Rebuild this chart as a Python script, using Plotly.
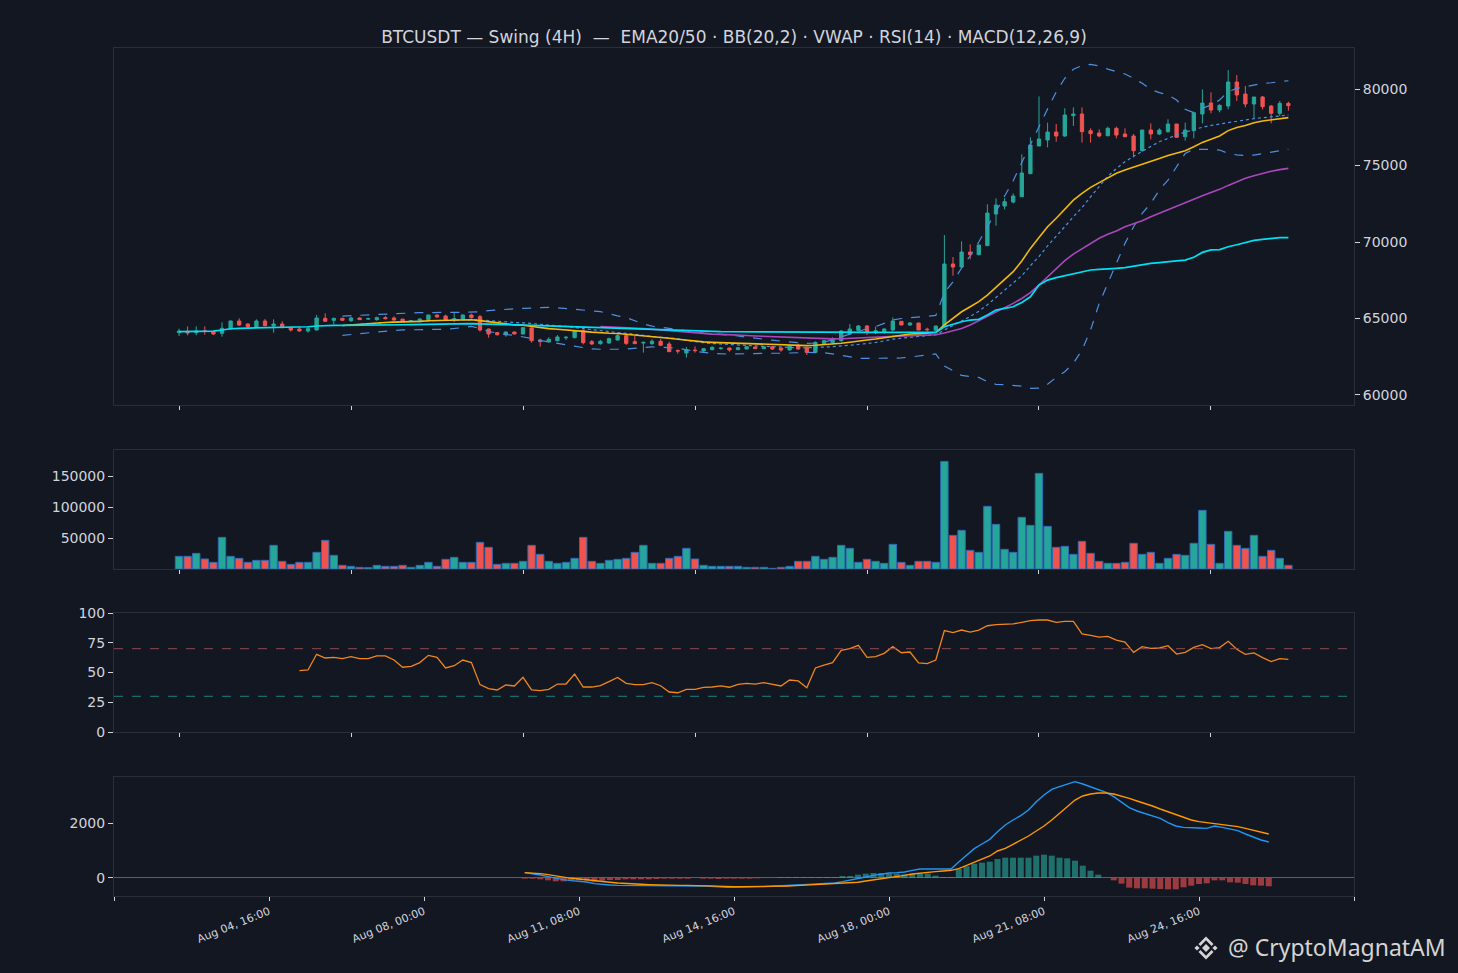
import pandas as pd
import plotly.graph_objects as go

# ---- 4H BTCUSDT candles ----
START = "2025-08-04 16:00"

OPEN = [64074, 64161, 64074, 64205, 64140, 64030, 64314, 64837, 64640, 64444,
        64837, 64510, 64640, 64400, 64314, 64183, 64248, 65010, 64880, 65010,
        64860, 65033, 64960, 64925, 65055, 65033, 64960, 64820, 64793, 64924,
        65228, 65163, 64900, 64945, 65229, 65120, 64314, 64074, 63943, 64118,
        63987, 64379, 63595, 63464, 63550, 63740, 63747, 64205, 63486, 63355,
        63399, 63595, 63878, 63486, 63400, 63355, 63508, 63333, 62900, 62745,
        62940, 62876, 62963, 63040, 63071, 62963, 63006, 63137, 63028, 63158,
        63071, 62941, 63202, 63115, 62789, 63355, 63420, 63551, 63987, 64227,
        64510, 64074, 64074, 64248, 64815, 64575, 64706, 64300, 64227, 64510,
        68562, 68364, 69344, 69170, 69759, 71828, 72351, 72613, 72962, 74465,
        76273, 76666, 77188, 76927, 78256, 78365, 77276, 77123, 76949, 77428,
        77058, 76927, 75968, 77319, 77058, 77210, 77711, 76884, 77276, 78365,
        79084, 78627, 78888, 80457, 79673, 79019, 79477, 78888, 78409, 79063]
HIGH = [64336, 64488, 64488, 64488, 64160, 64750, 64860, 65010, 64684, 64945,
        64967, 64945, 64815, 64466, 64466, 64466, 65230, 65340, 65050, 65050,
        65120, 65080, 65050, 65120, 65160, 65140, 64980, 64880, 65000, 65250,
        65260, 65250, 65380, 65260, 65315, 65230, 64336, 64120, 64140, 64140,
        64420, 64420, 63680, 63770, 63920, 63856, 64180, 64290, 63595, 63600,
        63750, 64030, 63943, 63856, 63486, 63640, 63660, 63480, 62980, 63140,
        63180, 63070, 63180, 63130, 63090, 63110, 63180, 63160, 63180, 63180,
        63090, 63220, 63350, 63140, 63500, 63600, 63770, 64250, 64640, 64575,
        64575, 64466, 64360, 65077, 64815, 64750, 64706, 64400, 64510, 70458,
        69020, 70042, 69846, 69846, 72460, 72853, 72853, 73180, 75729, 76840,
        79520, 77799, 77711, 78736, 78801, 78801, 77430, 77363, 77537, 77537,
        77428, 77058, 77319, 77755, 77428, 78017, 77711, 77799, 78518, 79978,
        79782, 78997, 81241, 80915, 80196, 79477, 79542, 78954, 79215, 79172]
LOW = [63856, 63900, 63900, 63943, 63921, 63812, 64300, 64510, 64380, 64380,
       64490, 64074, 64357, 64140, 64140, 64074, 64220, 64770, 64620, 64840,
       64770, 64900, 64900, 64860, 64945, 64860, 64790, 64760, 64750, 64900,
       65070, 64850, 64770, 64920, 65000, 64140, 63747, 63880, 63812, 63960,
       63950, 63420, 63160, 63420, 63500, 63595, 63700, 63311, 63270, 63290,
       63350, 63550, 63270, 63355, 62770, 63270, 63200, 62832, 62700, 62440,
       62770, 62810, 62920, 62960, 62830, 62940, 62990, 63010, 63010, 62940,
       62830, 62920, 62940, 62615, 62750, 63330, 63310, 63480, 63920, 64140,
       63920, 63990, 64010, 64180, 64575, 64530, 64248, 64140, 64200, 64400,
       67800, 68364, 68865, 69130, 69759, 71066, 72134, 72525, 72962, 74465,
       76273, 76186, 76557, 76884, 77581, 76492, 76492, 76840, 76905, 76775,
       76840, 75533, 75903, 76709, 76992, 77145, 76840, 76622, 76775, 77755,
       78409, 78475, 78670, 79215, 78801, 78082, 78670, 77755, 78235, 78583]
CLOSE = [64183, 64052, 64183, 64161, 63987, 64357, 64837, 64575, 64466, 64837,
         64532, 64640, 64466, 64248, 64183, 64336, 65033, 64815, 65010, 64880,
         65033, 64925, 64990, 65055, 64990, 64900, 64790, 64850, 64967, 65228,
         65097, 64880, 64990, 65229, 65054, 64248, 63987, 63943, 64118, 63987,
         64401, 63550, 63486, 63638, 63791, 63770, 64161, 63420, 63333, 63508,
         63682, 63878, 63377, 63355, 63440, 63508, 63246, 62832, 62875, 62963,
         62900, 63028, 63115, 63060, 62941, 63093, 63158, 63028, 63158, 63006,
         62941, 63202, 63006, 62789, 63442, 63551, 63638, 64183, 64314, 64510,
         64118, 64205, 64314, 64837, 64575, 64706, 64248, 64270, 64510, 68562,
         68366, 69344, 69170, 69802, 71894, 72417, 72635, 73005, 74508, 76339,
         76731, 77188, 76927, 78300, 78365, 77210, 77080, 76927, 77428, 76992,
         76884, 75968, 77319, 77058, 77319, 77711, 76840, 77319, 78452, 79084,
         78627, 78932, 80457, 79607, 79019, 79477, 78845, 78409, 79063, 78910]
VOLUME = [20430, 20430, 25270, 16130, 10750, 51070, 20430, 17200, 10750, 13980,
          13980, 38170, 12370, 7530, 10750, 10750, 26880, 46230, 22040, 5910,
          4300, 2690, 2150, 5910, 4300, 4300, 5910, 2690, 5910, 10750,
          4300, 15590, 18820, 10750, 10750, 43010, 34940, 7530, 9140, 9140,
          12370, 38170, 23650, 12370, 9140, 10750, 17200, 51070, 12370, 9140,
          13980, 15590, 17200, 26880, 38170, 9140, 9140, 17200, 20430, 33330,
          16130, 5910, 4300, 4300, 4300, 4300, 2690, 2690, 2690, 1075,
          2690, 4300, 12370, 12370, 20430, 15590, 18820, 38170, 33330, 10750,
          15590, 12370, 9140, 39780, 10750, 5910, 12370, 12370, 10750, 173640,
          54300, 62360, 30100, 26880, 101070, 72040, 31720, 26880, 83330, 70430,
          154290, 68810, 34940, 36560, 23650, 44620, 25270, 12370, 9140, 9140,
          10750, 41400, 23650, 26880, 9140, 17200, 23650, 22040, 41400, 94620,
          39780, 9140, 60750, 38170, 33330, 54300, 20430, 30100, 17200, 5910]

# ---- overlays (None where not yet defined) ----
EMA20 = [None] * 19 + [
    64540, 64590, 64630, 64670, 64710, 64740, 64760, 64770, 64790, 64810,
    64850, 64870, 64880, 64890, 64910, 64920, 64860, 64780, 64700, 64640,
    64580, 64560, 64480, 64400, 64340, 64300, 64260, 64240, 64160, 64110,
    64060, 64040, 64020, 63970, 63920, 63870, 63840, 63800, 63710, 63640,
    63570, 63510, 63470, 63440, 63420, 63390, 63370, 63350, 63330, 63320,
    63300, 63280, 63270, 63250, 63230, 63250, 63280, 63310, 63380, 63450,
    63540, 63600, 63660, 63740, 63840, 63910, 63990, 64010, 64040, 64080,
    64580, 65010, 65440, 65770, 66100, 66530, 67030, 67510, 68060, 68760,
    69580, 70300, 71000, 71550, 72130, 72740, 73180, 73570, 73880, 74200,
    74490, 74700, 74880, 75080, 75250, 75450, 75660, 75790, 75970, 76230,
    76510, 76710, 76930, 77280, 77490, 77620, 77800, 77910, 77970, 78060,
    78130]
EMA50 = [None] * 49 + [
    64480, 64460, 64430, 64400, 64370, 64340, 64300, 64250, 64190, 64130,
    64080, 64040, 64000, 63980, 63960, 63950, 63920, 63890, 63860, 63840,
    63820, 63800, 63780, 63750, 63710, 63680, 63660, 63665, 63680, 63710,
    63730, 63760, 63790, 63810, 63840, 63860, 63880, 63900, 63920, 63940,
    64050, 64180, 64350, 64570, 64850, 65160, 65440, 65730, 65990, 66310,
    66690, 67190, 67730, 68280, 68780, 69210, 69540, 69910, 70240, 70500,
    70720, 71000, 71200, 71390, 71650, 71870, 72090, 72310, 72530, 72790,
    73030, 73220, 73440, 73700, 73940, 74160, 74330, 74490, 74620, 74730,
    74810]
VWAP = [64140, 64150, 64160, 64170, 64170, 64250, 64330, 64360, 64370, 64390,
        64410, 64440, 64450, 64450, 64450, 64460, 64510, 64540, 64550, 64550,
        64550, 64555, 64560, 64570, 64580, 64590, 64590, 64600, 64610, 64640,
        64650, 64650, 64660, 64660, 64660, 64650, 64620, 64610, 64600, 64590,
        64590, 64560, 64540, 64520, 64500, 64490, 64480, 64440, 64410, 64390,
        64380, 64370, 64350, 64320, 64290, 64280, 64270, 64230, 64200, 64180,
        64160, 64150, 64145, 64140, 64135, 64130, 64130, 64125, 64125, 64120,
        64120, 64115, 64110, 64100, 64100, 64095, 64095, 64095, 64095, 64095,
        64095, 64095, 64095, 64095, 64095, 64095, 64095, 64095, 64095, 64460,
        64640, 64790, 64900, 64945, 65230, 65550, 65660, 65770, 66050, 66420,
        67190, 67510, 67670, 67800, 67880, 68060, 68170, 68210, 68230, 68280,
        68320, 68430, 68490, 68600, 68650, 68690, 68760, 68820, 69000, 69320,
        69480, 69500, 69690, 69820, 69950, 70110, 70170, 70240, 70280, 70290]
BB_UP = [None] * 19 + [
    65160, 65190, 65220, 65240, 65260, 65290, 65320, 65340, 65360, 65380,
    65400, 65400, 65400, 65400, 65400, 65410, 65430, 65520, 65570, 65600,
    65630, 65660, 65680, 65720, 65730, 65700, 65660, 65610, 65550, 65500,
    65450, 65300, 65170, 65060, 64850, 64640, 64500, 64420, 64360, 64280,
    64180, 64110, 64050, 64010, 63970, 63920, 63860, 63780, 63700, 63640,
    63580, 63520, 63480, 63420, 63380, 63400, 63450, 63620, 63810, 64000,
    64180, 64330, 64470, 64700, 64900, 65000, 65060, 65120, 65160, 65200,
    66700, 67400, 68300, 69100, 70000, 71000, 72000, 73000, 74000, 75200,
    76400, 77500, 78700, 79800, 80700, 81290, 81530, 81610, 81500, 81300,
    81130, 80980, 80700, 80370, 79980, 79760, 79610, 79280, 78670, 78450,
    78740, 78950, 79280, 79830, 80040, 80150, 80300, 80370, 80410, 80480,
    80540]
BB_MID = [None] * 19 + [
    64530, 64575, 64620, 64650, 64690, 64730, 64770, 64795, 64815, 64830,
    64845, 64845, 64850, 64870, 64900, 64935, 64900, 64850, 64800, 64770,
    64740, 64720, 64680, 64640, 64600, 64540, 64480, 64405, 64335, 64255,
    64220, 64140, 64080, 64035, 63955, 63880, 63820, 63775, 63735, 63680,
    63570, 63475, 63415, 63365, 63325, 63295, 63275, 63245, 63210, 63185,
    63155, 63125, 63105, 63090, 63085, 63095, 63105, 63155, 63205, 63240,
    63290, 63360, 63430, 63550, 63650, 63710, 63770, 63840, 63890, 63940,
    64250, 64520, 64830, 65130, 65480, 65900, 66380, 66830, 67300, 67800,
    68450, 69050, 69750, 70350, 71000, 71650, 72250, 72950, 73650, 74300,
    74800, 75250, 75600, 75950, 76250, 76550, 76800, 77000, 77180, 77350,
    77500, 77620, 77720, 77820, 77900, 77980, 78060, 78130, 78190, 78250,
    78300]
BB_LO = [None] * 19 + [
    63900, 63960, 64020, 64060, 64120, 64170, 64220, 64250, 64270, 64280,
    64290, 64290, 64300, 64340, 64400, 64480, 64350, 64150, 64030, 63950,
    63900, 63820, 63700, 63560, 63470, 63380, 63300, 63200, 63120, 63010,
    62990, 62975, 62990, 63010, 63060, 63120, 63140, 63130, 63110, 63060,
    62950, 62850, 62780, 62720, 62680, 62670, 62690, 62710, 62720, 62730,
    62730, 62730, 62730, 62760, 62790, 62790, 62760, 62690, 62600, 62480,
    62400, 62390, 62390, 62400, 62400, 62420, 62480, 62560, 62620, 62680,
    61900, 61600, 61280, 61200, 61150, 60870, 60700, 60680, 60640, 60580,
    60430, 60450, 60700, 61150, 61520, 62070, 62940, 64250, 65990, 67300,
    68600, 69910, 71000, 71870, 72530, 73400, 74050, 74920, 75790, 76060,
    76060, 76060, 76010, 75790, 75690, 75660, 75680, 75790, 75900, 75970,
    76060]
RSI = [None] * 14 + [
    51.5, 52.1, 65.3, 62.2, 62.7, 61.6,
    63.3, 61.6, 61.6, 63.9, 63.9, 60.5, 54.4, 55.2, 58.3, 64.4,
    62.7, 53.8, 55.7, 60.5, 58.3, 39.8, 36.4, 35.3, 39.5, 38.7,
    45.9, 35.3, 34.7, 35.9, 40.3, 40.3, 48.7, 37.8, 37.8, 38.9,
    42.3, 45.9, 40.9, 39.8, 39.8, 41.5, 38.9, 33.6, 33.0, 35.9,
    35.9, 37.5, 37.8, 38.7, 37.6, 40.1, 40.9, 40.3, 41.5, 39.8,
    38.7, 43.7, 42.9, 37.2, 53.8, 56.1, 58.3, 68.6, 70.1, 72.8,
    62.7, 63.3, 66.1, 71.7, 66.6, 67.2, 58.0, 57.4, 60.5, 85.2,
    83.5, 85.7, 84.0, 85.7, 89.3, 90.2, 90.5, 90.8, 92.2, 93.6,
    94.1, 94.1, 92.2, 93.0, 93.0, 82.4, 81.2, 79.8, 80.4, 77.3,
    75.6, 66.9, 71.7, 70.3, 70.6, 72.5, 65.5, 66.9, 71.1, 73.4,
    70.1, 70.9, 76.2, 69.5, 65.3, 66.4, 62.5, 59.1, 61.6, 61.1]
RSI_LEVELS = [70, 30]

MACD_START = 33  # first candle with a signal value
MACD = [194, 158, 110, 49, -12, -60, -97,
        -109, -145, -206, -242, -254, -267, -267, -267, -291, -291,
        -291, -291, -291, -291, -291, -291, -291, -303, -327, -339,
        -339, -339, -327, -327, -315, -303, -279, -267, -254, -242,
        -230, -218, -206, -182, -133, -85, -36, 37, 97, 145,
        182, 194, 218, 279, 327, 327, 327, 315, 327, 582,
        836, 1067, 1236, 1406, 1685, 1927, 2109, 2267, 2473, 2776,
        3018, 3224, 3321, 3406, 3503, 3418, 3321, 3224, 3115, 2957,
        2751, 2557, 2436, 2351, 2267, 2170, 2012, 1891, 1842, 1842,
        1818, 1806, 1891, 1842, 1782, 1721, 1600, 1479, 1382, 1309]
SIGNAL = [194, 182, 158, 121, 73, 37, -12,
          -36, -73, -97, -133, -157, -182, -206, -218, -230, -242,
          -254, -254, -267, -267, -267, -279, -279, -291, -303, -315,
          -315, -315, -315, -315, -315, -303, -303, -291, -279, -267,
          -254, -242, -230, -206, -194, -182, -157, -109, -73, -24,
          12, 49, 97, 145, 182, 206, 230, 255, 279, 340,
          449, 558, 679, 800, 982, 1079, 1224, 1370, 1527, 1709,
          1891, 2109, 2351, 2594, 2836, 2982, 3054, 3091, 3091, 3054,
          2982, 2897, 2800, 2715, 2618, 2509, 2412, 2291, 2194, 2109,
          2048, 2012, 1988, 1964, 1915, 1867, 1806, 1745, 1673, 1600]
HIST = [-24, -24, -48, -85, -121, -121, -97,
        -85, -85, -133, -97, -73, -73, -48, -48, -48, -48,
        -36, -24, -24, -24, -24, 0, -24, -24, -36, -24,
        -24, -24, -24, -12, 0, 0, 36, 36, 36, 36,
        36, 36, 36, 36, 73, 73, 121, 158, 182, 182,
        158, 158, 133, 158, 158, 158, 85, 36, 36, 327,
        424, 521, 558, 594, 691, 739, 739, 739, 739, 812,
        848, 812, 739, 715, 630, 448, 267, 121, 0, -85,
        -206, -351, -376, -376, -388, -400, -412, -412, -339, -279,
        -218, -194, -85, -85, -158, -170, -218, -267, -279, -303]

TITLE = ("BTCUSDT — Swing (4H) \u00a0— \u00a0EMA20/50 · BB(20,2) · VWAP · "
         "RSI(14) · MACD(12,26,9)")
WATERMARK = "@ CryptoMagnatAM"

# ---- styling ----
W, H = 1458, 973
PL, PR, PT, PB = 114, 1354, 48, 896      # plot area edges (px)
BG = "#131722"
FG = "#d1d4dc"
FRAME = "#2a2e39"
UP, DN = "#26a69a", "#ef5350"
FONT = "DejaVu Sans"


def pxx(x):
    return (x - PL) / (PR - PL)


def pxy(y):
    return (PB - y) / (PB - PT)


n = len(OPEN)
idx = list(range(n))
times = pd.date_range(START, periods=n, freq="4h")
mtimes = times[MACD_START:]

fig = go.Figure()

fig.add_trace(go.Candlestick(
    x=idx, open=OPEN, high=HIGH, low=LOW, close=CLOSE,
    increasing=dict(line=dict(color=UP, width=1), fillcolor=UP),
    decreasing=dict(line=dict(color=DN, width=1), fillcolor=DN),
    whiskerwidth=0, xaxis="x", yaxis="y", showlegend=False, name="BTCUSDT"))

bb_style = dict(color="#4f8fdf", width=1.2)
fig.add_trace(go.Scatter(x=idx, y=BB_UP, mode="lines", xaxis="x", yaxis="y",
                         line=dict(**bb_style, dash="dash"), showlegend=False))
fig.add_trace(go.Scatter(x=idx, y=BB_LO, mode="lines", xaxis="x", yaxis="y",
                         line=dict(**bb_style, dash="dash"), showlegend=False))
fig.add_trace(go.Scatter(x=idx, y=BB_MID, mode="lines", xaxis="x", yaxis="y",
                         line=dict(**bb_style, dash="dot"), showlegend=False))
fig.add_trace(go.Scatter(x=idx, y=EMA50, mode="lines", xaxis="x", yaxis="y",
                         line=dict(color="#ab47bc", width=1.6), showlegend=False))
fig.add_trace(go.Scatter(x=idx, y=EMA20, mode="lines", xaxis="x", yaxis="y",
                         line=dict(color="#f0b90b", width=1.6), showlegend=False))
fig.add_trace(go.Scatter(x=idx, y=VWAP, mode="lines", xaxis="x", yaxis="y",
                         line=dict(color="#00e0f5", width=1.7), showlegend=False))

vcolors = [UP if c >= o else DN for o, c in zip(OPEN, CLOSE)]
fig.add_trace(go.Bar(x=idx, y=VOLUME, width=0.86, xaxis="x2", yaxis="y2",
                     marker=dict(color=vcolors, line=dict(color="#2e6cb2", width=1)),
                     showlegend=False))

fig.add_trace(go.Scatter(x=idx, y=RSI, mode="lines", xaxis="x3", yaxis="y3",
                         line=dict(color="#f0861c", width=1.3), showlegend=False))

hcolors = ["rgba(38,166,154,0.62)" if h >= 0 else "rgba(239,83,80,0.62)" for h in HIST]
fig.add_trace(go.Bar(x=mtimes, y=HIST, width=0.78 * 4 * 3600 * 1000,
                     marker=dict(color=hcolors, line=dict(width=0)),
                     xaxis="x4", yaxis="y4", showlegend=False))
fig.add_trace(go.Scatter(x=mtimes, y=MACD, mode="lines", xaxis="x4", yaxis="y4",
                         line=dict(color="#2196f3", width=1.4), showlegend=False))
fig.add_trace(go.Scatter(x=mtimes, y=SIGNAL, mode="lines", xaxis="x4", yaxis="y4",
                         line=dict(color="#ff9800", width=1.4), showlegend=False))

axis_base = dict(showline=True, mirror=True, linecolor=FRAME, linewidth=1,
                 showgrid=False, zeroline=False, ticks="outside", ticklen=4,
                 tickcolor=FG, tickwidth=1, tickfont=dict(color=FG, size=14))
x_top = dict(axis_base, range=[-7.56, 136.63], tickvals=list(range(0, 121, 20)),
             showticklabels=False)

date_ticks = pd.date_range("2025-08-01 08:00", "2025-08-28 00:00", freq="80h")
date_text = [t.strftime("%b %d, %H:%M") for t in date_ticks]
date_text[0] = date_text[-1] = ""

fig.update_layout(
    width=W, height=H,
    margin=dict(l=PL, r=W - PR, t=PT, b=H - PB),
    paper_bgcolor=BG, plot_bgcolor=BG,
    font=dict(family=FONT, color=FG),
    boxgap=0.45,
    title=dict(text=TITLE, x=pxx(734), xref="paper", xanchor="center",
               y=1 - 37 / H, yref="container", yanchor="middle",
               font=dict(size=17, color=FG)),
    xaxis=dict(x_top, anchor="y", rangeslider=dict(visible=False)),
    xaxis2=dict(x_top, anchor="y2", matches="x"),
    xaxis3=dict(x_top, anchor="y3", matches="x"),
    xaxis4=dict(axis_base, anchor="y4", type="date",
                range=["2025-08-01 08:00", "2025-08-28 00:00"],
                tickvals=list(date_ticks), ticktext=date_text,
                tickangle=-22, tickfont=dict(color=FG, size=11)),
    yaxis=dict(axis_base, domain=[pxy(405), 1], anchor="x", side="right",
               range=[59346, 82680], tickvals=[60000, 65000, 70000, 75000, 80000],
               tickformat="d", ticklen=5),
    yaxis2=dict(axis_base, domain=[pxy(569), pxy(450)], anchor="x2",
                range=[0, 192000], tickvals=[50000, 100000, 150000],
                tickformat="d", ticklen=5),
    yaxis3=dict(axis_base, domain=[pxy(732), pxy(613)], anchor="x3",
                range=[0, 100], tickvals=[0, 25, 50, 75, 100],
                tickformat="d", ticklen=5),
    yaxis4=dict(axis_base, domain=[0, pxy(777)], anchor="x4",
                range=[-655, 3673], tickvals=[0, 2000], tickformat="d",
                ticklen=5, zeroline=True, zerolinecolor="#5d606b",
                zerolinewidth=1),
)

# RSI guide levels
for lvl, col in zip(RSI_LEVELS, ["#8e4b52", "#1d8080"]):
    fig.add_shape(type="line", xref="x3 domain", x0=0, x1=1, yref="y3",
                  y0=lvl, y1=lvl, line=dict(color=col, width=1, dash="dash"))

# watermark: Binance-style logo + handle
cx, cy = 1206, 948


def poly(pts):
    return "M " + " L ".join(f"{pxx(cx + a)},{pxy(cy + b)}" for a, b in pts) + " Z"


logo = [
    [(0, -4), (4, 0), (0, 4), (-4, 0)],
    [(-9, -2.6), (-6.4, 0), (-9, 2.6), (-11.6, 0)],
    [(9, -2.6), (11.6, 0), (9, 2.6), (6.4, 0)],
    [(-7.5, -4), (0, -11.5), (7.5, -4), (5.6, -2.1), (0, -7.7), (-5.6, -2.1)],
    [(-7.5, 4), (0, 11.5), (7.5, 4), (5.6, 2.1), (0, 7.7), (-5.6, 2.1)],
]
for pts in logo:
    fig.add_shape(type="path", xref="paper", yref="paper", path=poly(pts),
                  fillcolor="#d4d4d4", line=dict(width=0))

fig.add_annotation(text=WATERMARK, xref="paper", yref="paper",
                   x=pxx(1226), y=pxy(947), xanchor="left", yanchor="middle",
                   showarrow=False, font=dict(family="Noto Sans", size=23,
                                              color="#d4d4d4"))

# drop the default page margin so the figure sits at the window origin
fig.write_html("out.html", config={"displayModeBar": False},
               post_script="document.body.style.margin='0';"
                           "document.body.style.background='#131722';")
